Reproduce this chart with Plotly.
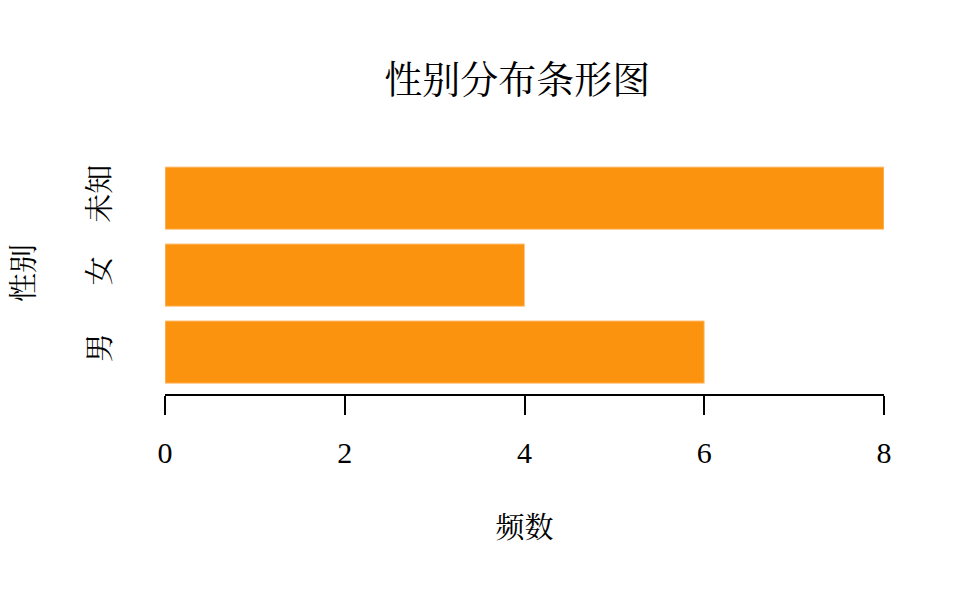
import plotly.graph_objects as go

# data
categories = ["男", "女", "未知"]
counts = [6, 4, 8]
x_ticks = [0, 2, 4, 6, 8]

FONT = "Liberation Serif, Noto Serif CJK SC, Noto Sans CJK SC, serif"
BAR_COLOR = "#FC930F"

# page body adds an 8px offset, so margins are shifted to compensate
fig = go.Figure()
fig.add_trace(go.Bar(
    x=counts, y=categories, orientation="h",
    marker=dict(color=BAR_COLOR, line=dict(color="#FFC98A", width=1)),
    showlegend=False,
))

fig.update_layout(
    width=966, height=590,
    paper_bgcolor="white", plot_bgcolor="white",
    margin=dict(l=157, r=90, t=144, b=204),
    bargap=0.19,
    font=dict(family=FONT, color="black"),
    title=dict(text="性别分布条形图", x=0.49, xref="paper", xanchor="center",
               y=1 - 72 / 590, yref="container", yanchor="middle",
               font=dict(size=38, family=FONT)),
)

fig.update_xaxes(
    range=[0, 8], tickvals=x_ticks, ticktext=[str(v) for v in x_ticks],
    showgrid=False, zeroline=False, automargin=False,
    showline=True, linecolor="black", linewidth=1.5,
    ticks="outside", ticklen=19, tickwidth=1.5, tickcolor="black",
    tickfont=dict(size=30, family=FONT), ticklabelstandoff=12,
    title=dict(text="频数", font=dict(size=29, family=FONT), standoff=50),
)
fig.update_yaxes(
    range=[-0.545, 2.6],
    showgrid=False, zeroline=False, showline=False, ticks="", automargin=False,
    tickangle=-90, tickfont=dict(size=29, family=FONT), ticklabelstandoff=48,
    title=dict(text="性别", font=dict(size=29, family=FONT), standoff=44),
)

fig.write_html("out.html")
